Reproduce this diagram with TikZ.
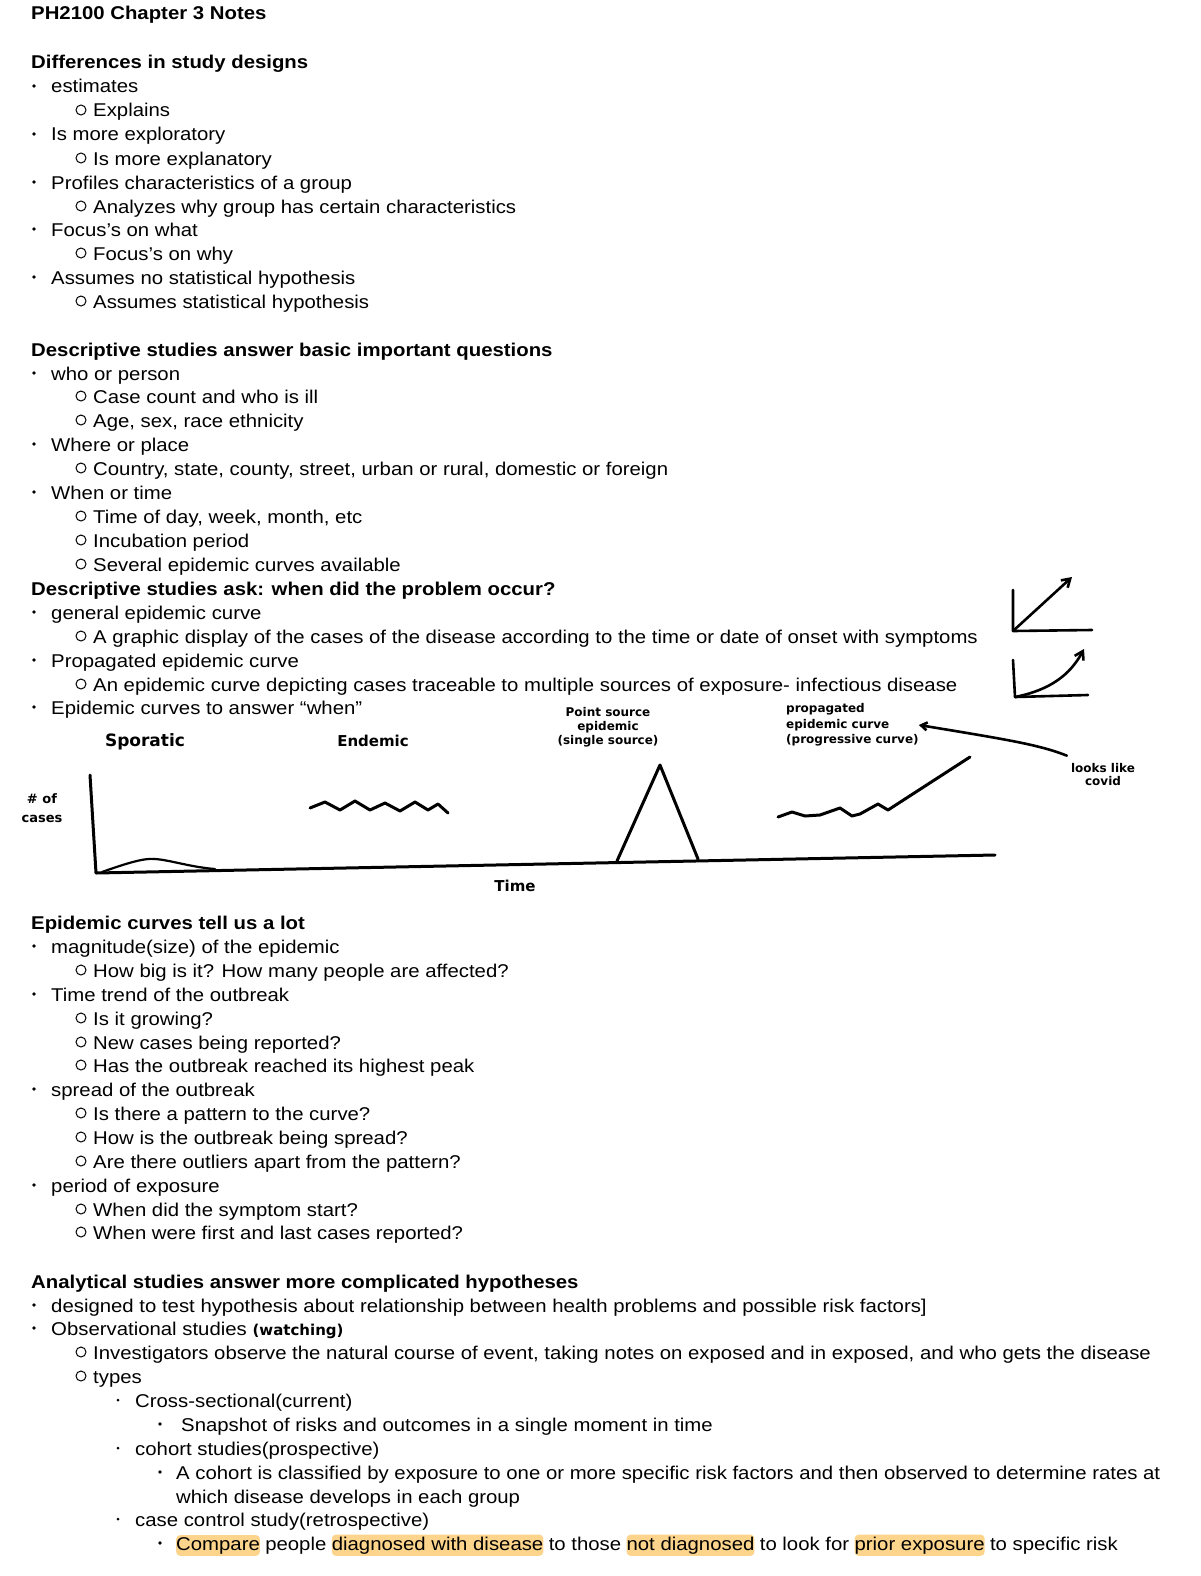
\documentclass[tikz,border=0pt]{standalone}
\usepackage{fontspec}
\setmainfont[FakeStretch=1.1]{Liberation Sans}
\newfontfamily\handf{DejaVu Sans}
\usetikzlibrary{arrows.meta}
\definecolor{hl}{RGB}{253,212,140}
\begin{document}
\begin{tikzpicture}[x=1pt,y=-1pt,
  txt/.style={anchor=base west,inner sep=0pt,font=\fontsize{18.5}{20}\selectfont},
  hd/.style={txt,font=\fontsize{18.5}{20}\selectfont\bfseries},
  bul/.style={circle,fill=black,inner sep=0pt,minimum size=3.6pt},
  circ/.style={circle,draw=black,line width=1pt,inner sep=0pt,minimum size=10pt},
  hand/.style={font=\handf\bfseries\fontsize{13}{13}\selectfont,inner sep=0pt,align=center},
  pen/.style={line width=3pt,line cap=round,line join=round},
  piece/.style={anchor=base west,inner sep=0pt,font=\fontsize{18.5}{20}\selectfont},
  hpiece/.style={piece,fill=hl,rounded corners=4pt,inner xsep=0pt,inner ysep=2pt}]
\useasboundingbox (0,0) rectangle (1200,1576);
\newcommand\LA[3]{\node[bul] (#1b) at (34,#2) {}; \node[txt] (#1) at (51,#2+7) {#3};}
\newcommand\LB[3]{\node[circ] (#1b) at (81,#2) {}; \node[txt] (#1) at (93,#2+7) {#3};}
\newcommand\LC[3]{\node[bul,minimum size=3pt] (#1b) at (118,#2) {}; \node[txt] (#1) at (135,#2+7) {#3};}
\newcommand\LD[4]{\node[bul] (#1b) at (160,#2) {}; \node[txt] (#1) at (#3,#2+7) {#4};}
\newcommand\HD[3]{\node[hd] (#1) at (31,#2+7) {#3};}

\HD{title}{13}{PH2100 Chapter 3 Notes}
\HD{h1}{62}{Differences in study designs}
\LA{a1}{86}{estimates}
\LB{a2}{110}{Explains}
\LA{a3}{134}{Is more exploratory}
\LB{a4}{158}{Is more explanatory}
\LA{a5}{182}{Profiles characteristics of a group}
\LB{a6}{206}{Analyzes why group has certain characteristics}
\LA{a7}{229}{Focus’s on what}
\LB{a8}{253}{Focus’s on why}
\LA{a9}{277}{Assumes no statistical hypothesis}
\LB{a10}{301}{Assumes statistical hypothesis}

\HD{h2}{349}{Descriptive studies answer basic important questions}
\LA{b1}{373}{who or person}
\LB{b2}{396}{Case count and who is ill}
\LB{b3}{420}{Age, sex, race ethnicity}
\LA{b4}{444}{Where or place}
\LB{b5}{468}{Country, state, county, street, urban or rural, domestic or foreign}
\LA{b6}{492}{When or time}
\LB{b7}{516}{Time of day, week, month, etc}
\LB{b8}{540}{Incubation period}
\LB{b9}{564}{Several epidemic curves available}
\HD{h3}{588}{Descriptive studies ask: when did the problem occur?}
\LA{c1}{612}{general epidemic curve}
\LB{c2}{636}{A graphic display of the cases of the disease according to the time or date of onset with symptoms}
\LA{c3}{660}{Propagated epidemic curve}
\LB{c4}{684}{An epidemic curve depicting cases traceable to multiple sources of exposure- infectious disease}
\LA{c5}{707}{Epidemic curves to answer “when”}

% small sketches top right
\coordinate (g1o) at (1013,631);
\coordinate (g1t) at (1013,590);
\coordinate (g1r) at (1092,630);
\coordinate (g1a) at (1072,577);
\draw[pen,line width=2.6pt] (g1t) -- (g1o) -- (g1r);
\draw[pen,line width=2.6pt,-{Straight Barb[length=8pt,width=10pt]}] (g1o) -- (g1a);
\coordinate (g2o) at (1015,697);
\coordinate (g2t) at (1013,660);
\coordinate (g2r) at (1088,695);
\coordinate (g2a) at (1084,649);
\draw[pen,line width=2.6pt] (g2t) -- (g2o) -- (g2r);
\draw[pen,line width=2.6pt,-{Straight Barb[length=8pt,width=10pt]}] (g2o) .. controls (1050,690) and (1070,675) .. (g2a);

% epidemic curve sketch
\node[hand,font=\handf\bfseries\fontsize{17}{17}\selectfont] (spor) at (145,742) {Sporatic};
\node[hand,font=\handf\bfseries\fontsize{15}{15}\selectfont] (endm) at (373,741) {Endemic};
\node[hand,font=\handf\bfseries\fontsize{12}{14}\selectfont] (pse) at (608,727) {Point source\\epidemic\\(single source)};
\node[hand,font=\handf\bfseries\fontsize{12}{15.5}\selectfont,align=left,anchor=west] (prop) at (786,725) {propagated\\epidemic curve\\(progressive curve)};
\node[hand,font=\handf\bfseries\fontsize{12}{13}\selectfont] (covid) at (1103,775) {looks like\\covid};
\node[hand,font=\handf\bfseries\fontsize{13}{19}\selectfont] (ncases) at (42,808) {\# of\\cases};
\node[hand,font=\handf\bfseries\fontsize{15}{15}\selectfont] (timel) at (515,886) {Time};
\coordinate (ytop) at (90,775);
\coordinate (orig) at (96,873);
\coordinate (xend) at (995,855);
\draw[pen] (ytop) -- (orig) -- (xend);
\draw[pen,line width=2.2pt] (102,872) .. controls (130,862) and (145,858) .. (155,859) .. controls (170,860) and (190,867) .. (215,869);
\draw[pen] (310,808) -- (325,802) -- (340,810) -- (355,801) -- (370,810) -- (385,803) -- (400,811) -- (415,802) -- (428,810) -- (438,804) -- (448,813);
\draw[pen] (617,861) -- (660,765) -- (698,859);
\draw[pen] (778,817) -- (792,812) -- (805,816) -- (820,815) -- (840,808) -- (852,816) -- (860,814) -- (878,804) -- (888,810) -- (970,757);
\draw[pen,line width=2.6pt,-{Straight Barb[length=6pt,width=8pt]}] (covid.north west) ++(-4,-8) .. controls (1040,745) and (1010,740) .. (prop.east);

\HD{h4}{922}{Epidemic curves tell us a lot}
\LA{d1}{946}{magnitude(size) of the epidemic}
\LB{d2}{970}{How big is it? How many people are affected?}
\LA{d3}{994}{Time trend of the outbreak}
\LB{d4}{1018}{Is it growing?}
\LB{d5}{1042}{New cases being reported?}
\LB{d6}{1065}{Has the outbreak reached its highest peak}
\LA{d7}{1089}{spread of the outbreak}
\LB{d8}{1113}{Is there a pattern to the curve?}
\LB{d9}{1137}{How is the outbreak being spread?}
\LB{d10}{1161}{Are there outliers apart from the pattern?}
\LA{d11}{1185}{period of exposure}
\LB{d12}{1209}{When did the symptom start?}
\LB{d13}{1232}{When were first and last cases reported?}

\HD{h5}{1281}{Analytical studies answer more complicated hypotheses}
\LA{e1}{1305}{designed to test hypothesis about relationship between health problems and possible risk factors]}
\LA{e2}{1328}{Observational studies {\handf\bfseries\fontsize{15}{15}\selectfont(watching)}}
\LB{e3}{1352}{Investigators observe the natural course of event, taking notes on exposed and in exposed, and who gets the disease}
\LB{e4}{1376}{types}
\LC{e5}{1400}{Cross-sectional(current)}
\LD{e6}{1424}{181}{Snapshot of risks and outcomes in a single moment in time}
\LC{e7}{1448}{cohort studies(prospective)}
\LD{e8}{1472}{176}{A cohort is classified by exposure to one or more specific risk factors and then observed to determine rates at}
\node[txt] (e9) at (176,1496+7) {which disease develops in each group};
\LC{e10}{1519}{case control study(retrospective)}
\node[bul] (e11b) at (160,1543) {};
\coordinate (e11ref) at (176,1543+7);
\node[hpiece] (p1) at (e11ref) {Compare};
\node[piece] (p2) at (p1.base east) {\hspace*{5pt}people\hspace*{5pt}};
\node[hpiece] (p3) at (p2.base east) {diagnosed with disease};
\node[piece] (p4) at (p3.base east) {\hspace*{5pt}to those\hspace*{5pt}};
\node[hpiece] (p5) at (p4.base east) {not diagnosed};
\node[piece] (p6) at (p5.base east) {\hspace*{5pt}to look for\hspace*{5pt}};
\node[hpiece] (p7) at (p6.base east) {prior exposure};
\node[piece] (p8) at (p7.base east) {\hspace*{5pt}to specific risk};
\end{tikzpicture}
\end{document}
